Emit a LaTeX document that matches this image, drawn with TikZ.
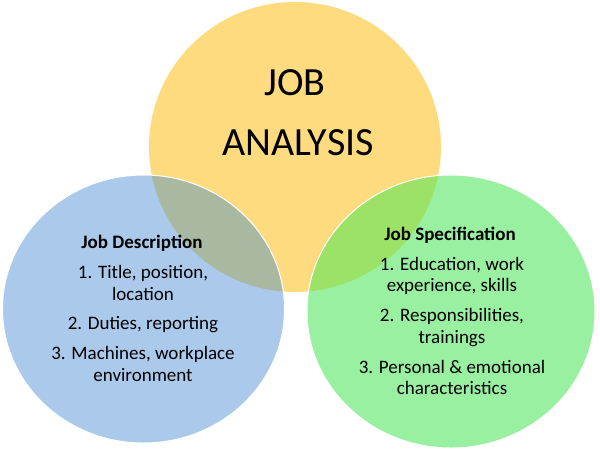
\documentclass[tikz,border=0pt]{standalone}
\usepackage{fontspec}
\setmainfont{Carlito}
\definecolor{cyellow}{HTML}{FFDB80}
\definecolor{cblue}{HTML}{ABC9EA}
\definecolor{cgreen}{HTML}{98F0A0}
\definecolor{cby}{HTML}{A9B9A1}
\definecolor{cgy}{HTML}{9BE266}
\begin{document}
\begin{tikzpicture}[x=1pt,y=-1pt,
  title/.style={font=\fontsize{40}{42}\selectfont, anchor=base, inner sep=0pt},
  head/.style={font=\bfseries\fontsize{19}{22}\selectfont, anchor=base, inner sep=0pt},
  item/.style={font=\fontsize{19}{22}\selectfont, anchor=base, inner sep=0pt}]
\useasboundingbox (0,0) rectangle (600,451);
\fill[white] (0,0) rectangle (600,451);
% circles
\fill[cyellow] (295,147) ellipse [x radius=146, y radius=145];
\fill[cblue] (143.5,309) ellipse [x radius=141, y radius=134];
\fill[cgreen] (451,311.5) ellipse [x radius=144, y radius=136.5];
\begin{scope}
  \clip (295,147) ellipse [x radius=146, y radius=145];
  \fill[cby] (143.5,309) ellipse [x radius=141, y radius=134];
  \fill[cgy] (451,311.5) ellipse [x radius=144, y radius=136.5];
\end{scope}
\draw[white, line width=1pt] (143.5,309) ellipse [x radius=141, y radius=134];
\draw[white, line width=1pt] (451,311.5) ellipse [x radius=144, y radius=136.5];
% title
\node[title] (t1) at (295,95) {JOB};
\node[title] (t2) at (298,155) {ANALYSIS};
% left block
\node[head] (l0) at (142,248) {Job Description};
\node[item] (l1) at (143,278) {1. Title, position,};
\node[item] (l2) at (143,300) {location};
\node[item] (l3) at (143,329) {2. Duties, reporting};
\node[item] (l4) at (143,359) {3. Machines, workplace};
\node[item] (l5) at (143,381) {environment};
% right block
\node[head] (r0) at (450,240) {Job Specification};
\node[item] (r1) at (452,270) {1. Education, work};
\node[item] (r2) at (452,291) {experience,\ skills};
\node[item] (r3) at (452,321) {2. Responsibilities,};
\node[item] (r4) at (452,343) {trainings};
\node[item] (r5) at (452,373) {3. Personal \& emotional};
\node[item] (r6) at (452,394) {characteristics};
\end{tikzpicture}
\end{document}
